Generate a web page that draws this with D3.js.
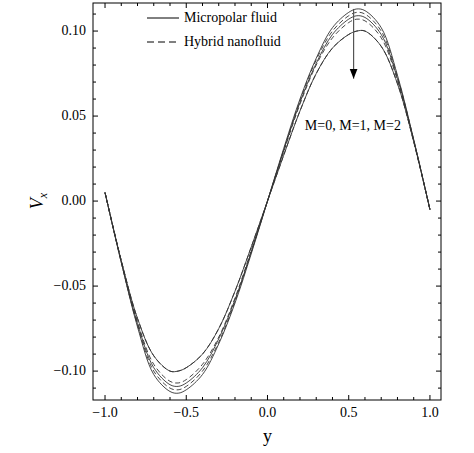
<!DOCTYPE html>
<html><head><meta charset="utf-8">
<script src="https://cdn.jsdelivr.net/npm/d3@7"></script>
<style>body{margin:0;background:#fff}text{font-family:"Liberation Serif",serif}</style>
</head><body><svg id="chart"></svg>
<script>
// left half positions; right half is mirrored (odd profile)
const yPos = [-1.0, -0.9, -0.8, -0.7, -0.6, -0.55, -0.5, -0.4, -0.3, -0.2, -0.1, 0.0];
const microM0 = [0.005, -0.036, -0.074, -0.102, -0.112, -0.113, -0.111, -0.102, -0.084, -0.060, -0.031, 0];
const hybridM0 = [0.005, -0.036, -0.073, -0.100, -0.110, -0.111, -0.109, -0.100, -0.083, -0.059, -0.030, 0];
const microM1 = [0.005, -0.036, -0.072, -0.098, -0.108, -0.109, -0.107, -0.098, -0.081, -0.058, -0.030, 0];
const hybridM1 = [0.005, -0.035, -0.071, -0.096, -0.106, -0.107, -0.105, -0.096, -0.080, -0.057, -0.029, 0];
const microM2 = [0.005, -0.035, -0.069, -0.091, -0.100, -0.100, -0.098, -0.090, -0.075, -0.053, -0.027, 0];
const hybridM2 = [0.005, -0.035, -0.069, -0.091, -0.100, -0.100, -0.098, -0.090, -0.075, -0.053, -0.027, 0];
const xTicks = [-1.0, -0.5, 0.0, 0.5, 1.0];
const yTicks = [-0.10, -0.05, 0.00, 0.05, 0.10];

const width = 474, height = 453;
const margin = {top: 3, right: 33, bottom: 53, left: 93};
const w = width - margin.left - margin.right, h = height - margin.top - margin.bottom;

const svg = d3.select('#chart').attr('width', width).attr('height', height)
    .append('g').attr('transform', 'translate(' + margin.left + ',' + margin.top + ')');

const x = d3.scaleLinear().domain([-1.074, 1.068]).range([0, w]);
const y = d3.scaleLinear().domain([-0.117, 0.1165]).range([h, 0]);

function fullCurve(vals) {
    const pts = yPos.map((p, i) => [p, vals[i]]);
    for (let i = yPos.length - 2; i >= 0; i--) pts.push([-yPos[i], -vals[i]]);
    return pts;
}

const line = d3.line().x(d => x(d[0])).y(d => y(d[1])).curve(d3.curveCatmullRom);
const series = [
    {v: microM0, dash: null}, {v: hybridM0, dash: '5,3'},
    {v: microM1, dash: null}, {v: hybridM1, dash: '5,3'},
    {v: microM2, dash: null}, {v: hybridM2, dash: '5,3'}
];
series.forEach(function(s) {
    svg.append('path').attr('d', line(fullCurve(s.v)))
        .attr('fill', 'none').attr('stroke', '#333').attr('stroke-width', 0.9)
        .attr('stroke-dasharray', s.dash);
});

// frame
svg.append('rect').attr('width', w).attr('height', h).attr('fill', 'none').attr('stroke', '#000');

// ticks (inward, all sides)
const xMinor = d3.range(-1.0, 1.001, 0.1);
const yMinor = d3.range(-0.11, 0.111, 0.01);
xMinor.forEach(function(t) {
    const major = xTicks.some(m => Math.abs(m - t) < 1e-6);
    const len = major ? 5 : 3;
    svg.append('line').attr('x1', x(t)).attr('x2', x(t)).attr('y1', h).attr('y2', h - len).attr('stroke', '#000');
    svg.append('line').attr('x1', x(t)).attr('x2', x(t)).attr('y1', 0).attr('y2', len).attr('stroke', '#000');
});
yMinor.forEach(function(t) {
    const major = yTicks.some(m => Math.abs(m - t) < 1e-6);
    const len = major ? 5 : 3;
    svg.append('line').attr('y1', y(t)).attr('y2', y(t)).attr('x1', 0).attr('x2', len).attr('stroke', '#000');
    svg.append('line').attr('y1', y(t)).attr('y2', y(t)).attr('x1', w).attr('x2', w - len).attr('stroke', '#000');
});
xTicks.forEach(function(t) {
    svg.append('text').attr('x', x(t)).attr('y', h + 17).attr('text-anchor', 'middle')
        .attr('font-size', 14).text(d3.format('.1f')(t).replace('-', '\u2212'));
});
yTicks.forEach(function(t) {
    svg.append('text').attr('x', -7).attr('y', y(t) + 4).attr('text-anchor', 'end')
        .attr('font-size', 14).text(d3.format('.2f')(t).replace('-', '\u2212'));
});

// axis labels
svg.append('text').attr('x', x(0)).attr('y', h + 42).attr('text-anchor', 'middle').attr('font-size', 18).text('y');
const yl = svg.append('text').attr('transform', 'translate(-50,' + y(0) + ') rotate(-90)')
    .attr('text-anchor', 'middle').attr('font-size', 18).attr('font-style', 'italic');
yl.append('tspan').text('V');
yl.append('tspan').attr('font-size', 12).attr('dy', 4).text('x');

// legend
const legend = [{label: 'Micropolar fluid', dash: null}, {label: 'Hybrid nanofluid', dash: '7,4'}];
legend.forEach(function(l, i) {
    const ly = 15 + i * 24;
    svg.append('line').attr('x1', 54).attr('x2', 86).attr('y1', ly).attr('y2', ly)
        .attr('stroke', '#000').attr('stroke-dasharray', l.dash);
    svg.append('text').attr('x', 91).attr('y', ly + 4).attr('font-size', 14).text(l.label);
});

// arrow + annotation
svg.append('defs').append('marker').attr('id', 'ah').attr('viewBox', '0 0 10 10')
    .attr('refX', 10).attr('refY', 5).attr('markerWidth', 8).attr('markerHeight', 8).attr('orient', 'auto')
    .append('path').attr('d', 'M0,1L10,5L0,9Z').attr('fill', '#000');
svg.append('line').attr('x1', x(0.53)).attr('x2', x(0.53)).attr('y1', y(0.113)).attr('y2', y(0.072))
    .attr('stroke', '#555').attr('stroke-width', 1.2).attr('marker-end', 'url(#ah)');
svg.append('text').attr('x', x(0.23)).attr('y', y(0.042)).attr('font-size', 14).text('M=0, M=1, M=2');
</script></body></html>
